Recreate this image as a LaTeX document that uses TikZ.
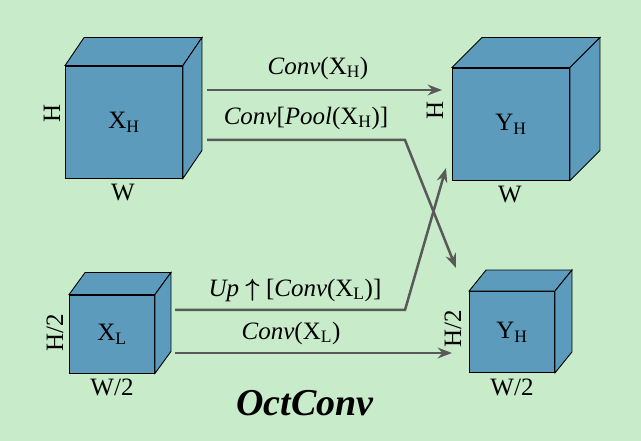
\documentclass[tikz,border=0pt]{standalone}
\usepackage{amsmath,amssymb}
\usepackage{fontspec}
\setmainfont{Liberation Serif}
\usetikzlibrary{arrows.meta,positioning,calc}
\definecolor{bggreen}{HTML}{C8ECCA}
\definecolor{cubeblue}{HTML}{5D9BBD}
\definecolor{arrowgray}{HTML}{595959}
\newcommand{\cube}[7]{% name, cx, cy, w, h, dx, dy
  \node[face,minimum width=#4pt,minimum height=#5pt] (#1) at (#2,#3) {};
  \draw[face] (#1.north west) -- ++(#6,#7) -- ($(#1.north east)+(#6,#7)$) -- (#1.north east) -- cycle;
  \draw[face] (#1.north east) -- ++(#6,#7) -- ($(#1.south east)+(#6,#7)$) -- (#1.south east) -- cycle;
}
\begin{document}
\begin{tikzpicture}[x=1pt,y=-1pt,>=Stealth,
  face/.style={draw=black,fill=cubeblue,line width=0.9pt,inner sep=0pt},
  flow/.style={->,draw=arrowgray,line width=2.5pt},
  lbl/.style={font=\fontsize{25}{28}\selectfont}]
  \fill[bggreen] (0,0) rectangle (641,441);
  \useasboundingbox (0,0) rectangle (641,441);

  % cubes
  \cube{XH}{124}{122}{117}{112}{19}{-28}
  \cube{YH}{511}{124}{117}{112}{30}{-30}
  \cube{XL}{112}{334}{85}{78}{16}{-22}
  \cube{YL}{512}{332}{85}{81}{17}{-21}

  % cube texts
  \node[lbl] at (XH) {X\textsubscript{H}};
  \node[lbl] at (YH) {Y\textsubscript{H}};
  \node[lbl] at (XL) {X\textsubscript{L}};
  \node[lbl] at (YL) {Y\textsubscript{H}};
  \node[lbl,rotate=90] (hXH) at (52,113) {H};
  \node[lbl] (wXH) at (123,193) {W};
  \node[lbl,rotate=90] (hYH) at (435,110) {H};
  \node[lbl] (wYH) at (510,195) {W};
  \node[lbl,rotate=90] (hXL) at (55,333) {H/2};
  \node[lbl] (wXL) at (112,387) {W/2};
  \node[lbl,rotate=90] (hYL) at (453,329) {H/2};
  \node[lbl] (wYL) at (512,387) {W/2};

  % connector ends
  \coordinate (a1) at (207,90);  \coordinate (a2) at (442,90);
  \coordinate (b1) at (207,140); \coordinate (b2) at (405,140); \coordinate (b3) at (456,268);
  \coordinate (c1) at (175,310); \coordinate (c2) at (405,310); \coordinate (c3) at (446,168);
  \coordinate (d1) at (175,353); \coordinate (d2) at (452,353);

  \draw[flow] (a1) -- (a2);
  \draw[flow] (b1) -- (b2) -- (b3);
  \draw[flow] (c1) -- (c2) -- (c3);
  \draw[flow] (d1) -- (d2);

  % labels
  \node[lbl] (la) at (318,68) {\textit{Conv}(X\textsubscript{H})};
  \node[lbl] (lb) at (306,118) {\textit{Conv}[\textit{Pool}(X\textsubscript{H})]};
  \node[lbl] (lc) at (295,290) {\textit{Up} $\boldsymbol{\uparrow}$ [\textit{Conv}(X\textsubscript{L})]};
  \node[lbl] (ld) at (291,333) {\textit{Conv}(X\textsubscript{L})};
  \node[font=\fontsize{38}{42}\selectfont\bfseries\itshape] (title) at (305,403) {OctConv};
\end{tikzpicture}
\end{document}
